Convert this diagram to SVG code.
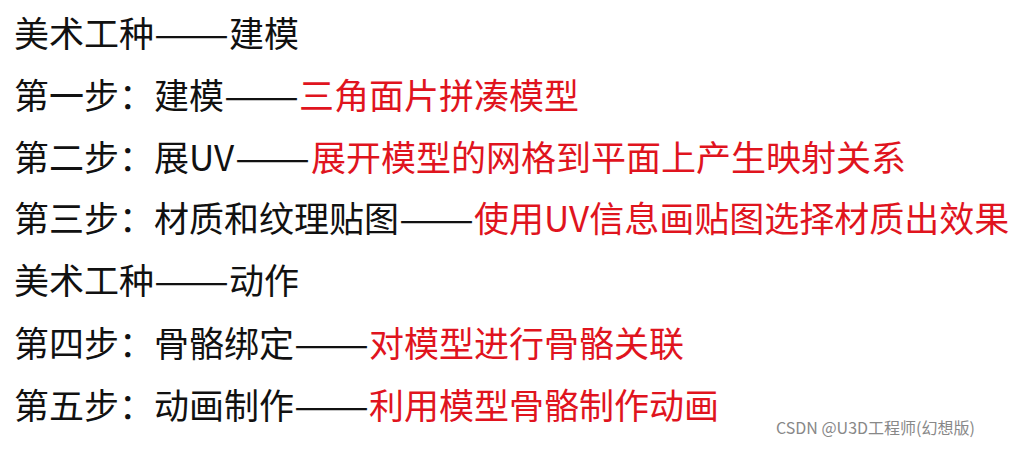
<svg xmlns="http://www.w3.org/2000/svg" width="1031" height="449" viewBox="0 0 1031 449">
<style>
text{font-family:"Noto Sans CJK SC","Noto Sans",sans-serif;font-size:35px;fill:#111}
.r{fill:#e0141e}
.w{font-size:16px;fill:#888}
</style>
<rect width="1031" height="449" fill="#fff"/>
<g id="l1"><text x="14" y="47">美术工种</text><text x="154" y="47" textLength="75" lengthAdjust="spacingAndGlyphs">——</text><text x="229" y="47">建模</text></g>
<g id="l2"><text x="14" y="109">第一步：建模</text><text x="224" y="109" textLength="75" lengthAdjust="spacingAndGlyphs">——</text><text class="r" x="299" y="109">三角面片拼凑模型</text></g>
<g id="l3"><text x="14" y="171">第二步：展UV</text><text x="235" y="171" textLength="75" lengthAdjust="spacingAndGlyphs">——</text><text class="r" x="311" y="171">展开模型的网格到平面上产生映射关系</text></g>
<g id="l4"><text x="14" y="232">第三步：材质和纹理贴图</text><text x="399" y="232" textLength="75" lengthAdjust="spacingAndGlyphs">——</text><text class="r" x="474" y="232">使用UV信息画贴图选择材质出效果</text></g>
<g id="l5"><text x="14" y="294">美术工种</text><text x="154" y="294" textLength="75" lengthAdjust="spacingAndGlyphs">——</text><text x="229" y="294">动作</text></g>
<g id="l6"><text x="14" y="357">第四步：骨骼绑定</text><text x="294" y="357" textLength="75" lengthAdjust="spacingAndGlyphs">——</text><text class="r" x="369" y="357">对模型进行骨骼关联</text></g>
<g id="l7"><text x="14" y="419">第五步：动画制作</text><text x="294" y="419" textLength="75" lengthAdjust="spacingAndGlyphs">——</text><text class="r" x="369" y="419">利用模型骨骼制作动画</text></g>
<g id="wm"><text class="w" x="776" y="434">CSDN @U3D工程师(幻想版)</text></g>
</svg>
